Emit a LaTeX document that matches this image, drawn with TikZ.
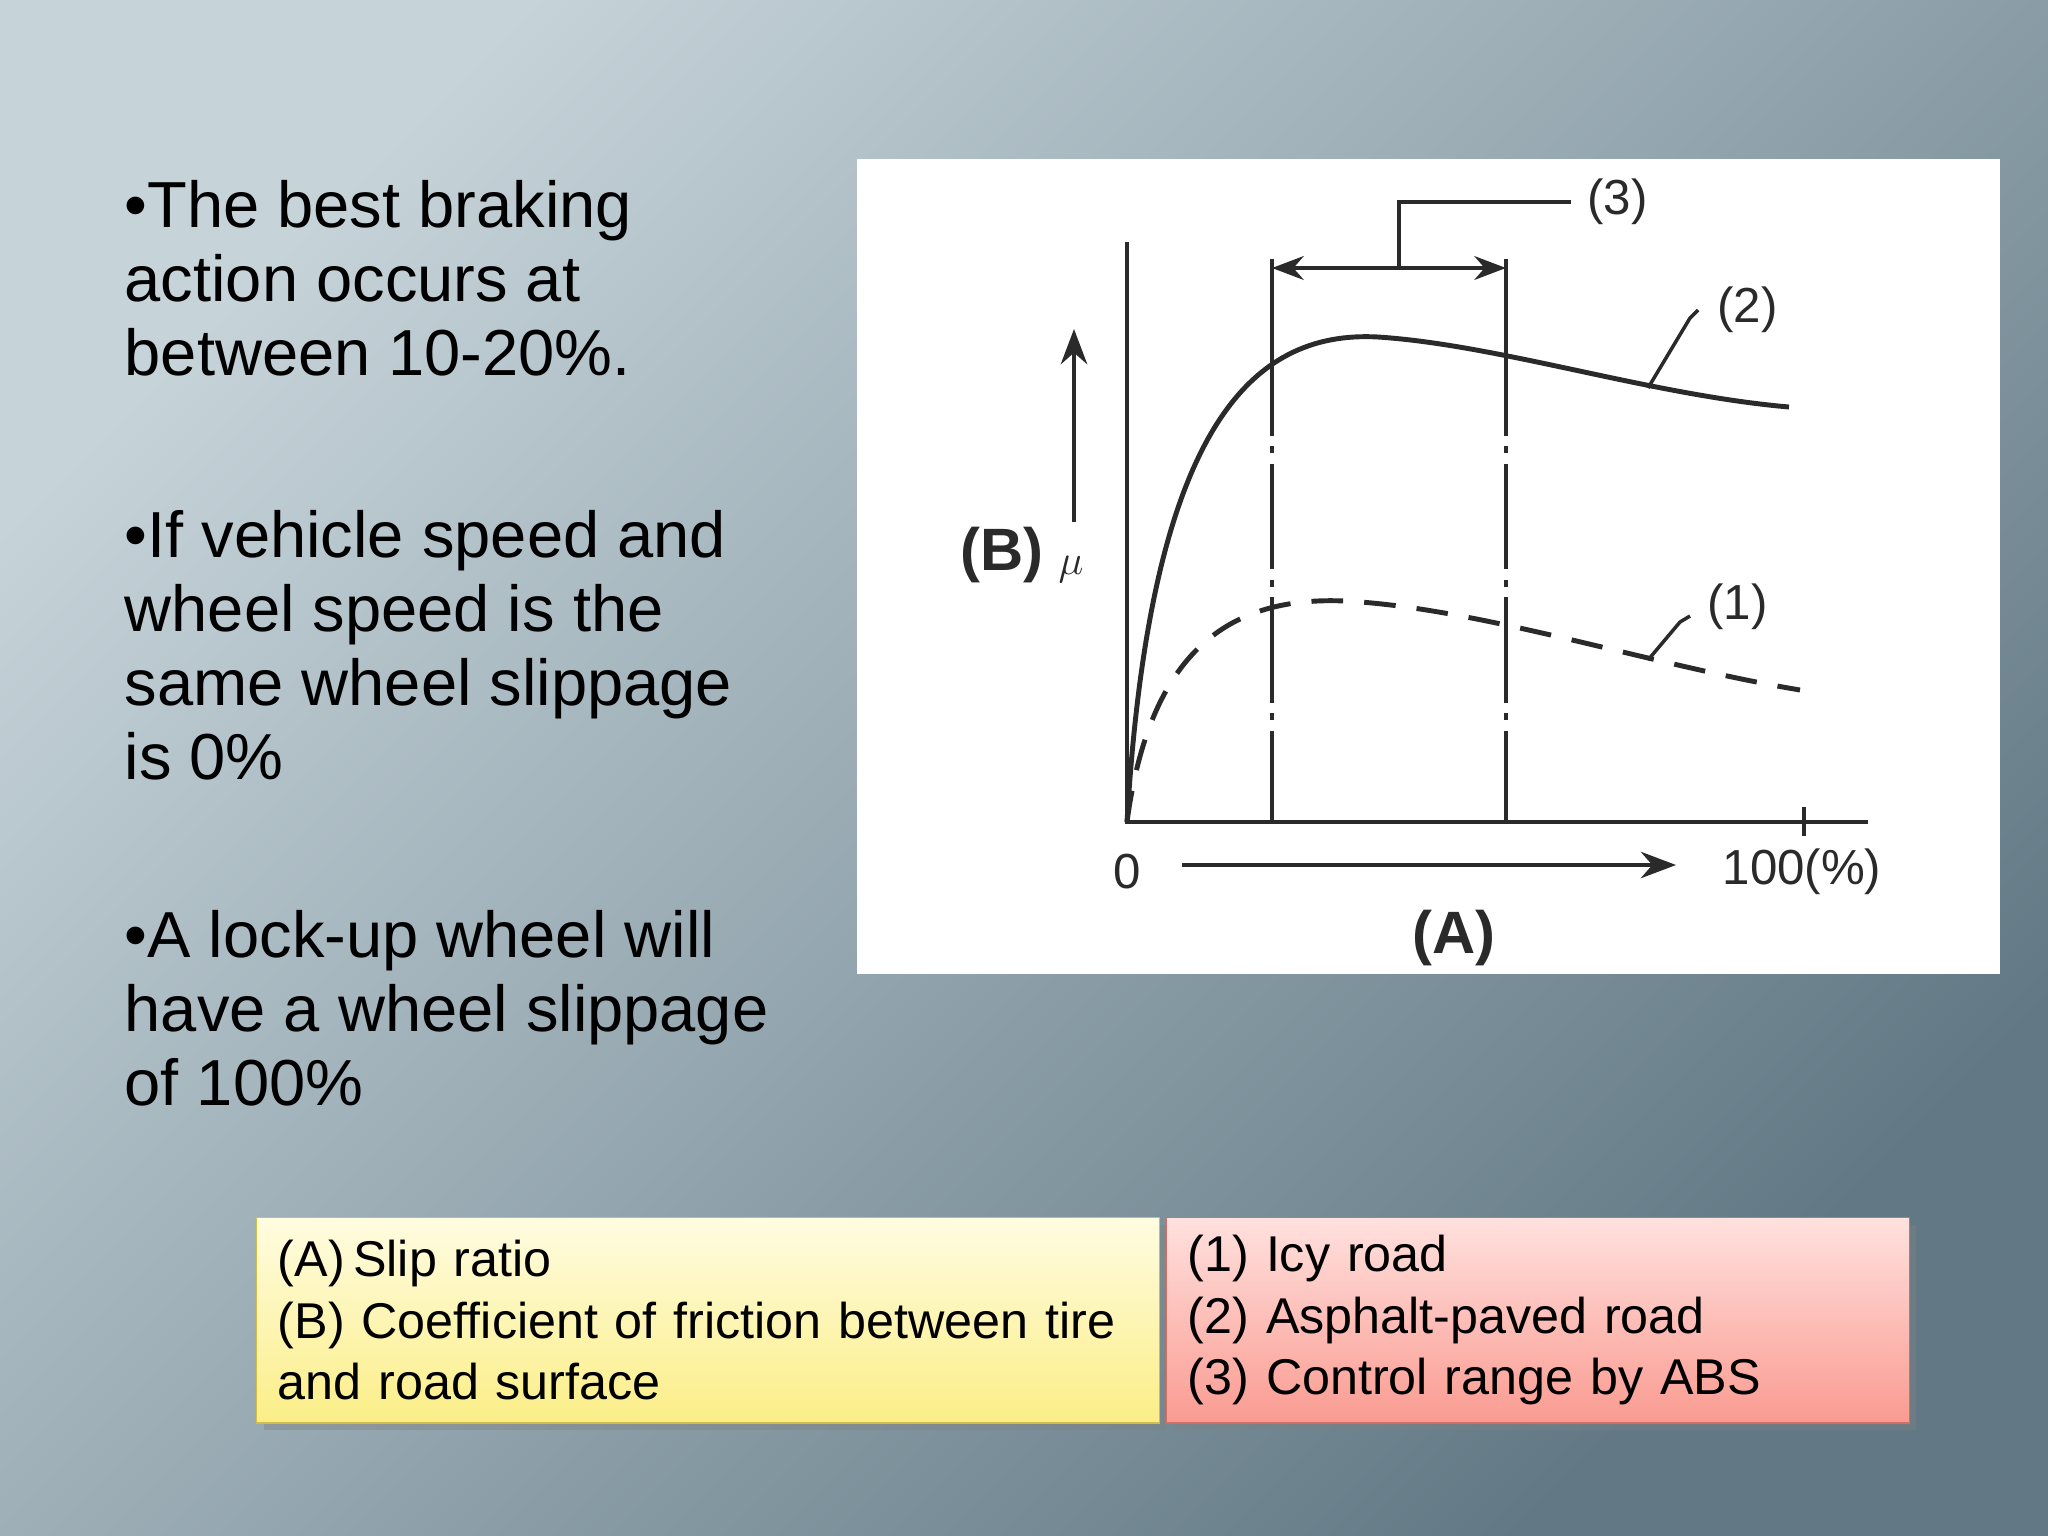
\documentclass[tikz,border=0pt]{standalone}
\usepackage{fontspec}
\setmainfont{Liberation Sans}
\usetikzlibrary{arrows.meta,shadows}
\definecolor{bgl}{HTML}{C6D3D9}
\definecolor{bgd}{HTML}{627985}
\definecolor{ink}{HTML}{2A2A2A}
\definecolor{ybd}{HTML}{D2BE46}
\definecolor{ytop}{HTML}{FFFCE1}
\definecolor{ybot}{HTML}{FBEE87}
\definecolor{rbd}{HTML}{D76E64}
\definecolor{rtop}{HTML}{FFE1DE}
\definecolor{rbot}{HTML}{FA9B91}
\tikzset{
  plotln/.style={ink, line width=1.4pt},
  lbl/.style={ink, font=\fontsize{14}{16}\selectfont},
  bul/.style={align=left, anchor=north west, font=\fontsize{18.5}{21}\selectfont, inner sep=0pt},
  legbox/.style={anchor=north west, align=left, inner xsep=6pt, inner ysep=5pt, font=\fontsize{14.3}{17.5}\selectfont, drop shadow={shadow xshift=2pt, shadow yshift=-2pt, opacity=0.4}}
}
\begin{document}
\begin{tikzpicture}[x=0.01cm,y=-0.01cm]
\useasboundingbox (0,0) rectangle (2048,1536);
\shade[shading=axis, top color=bgl, bottom color=bgd, shading angle=45] (0,0) rectangle (2048,1536);
% bullets
\node[bul] (t1) at (124,180) {•The best braking\\action occurs at\\between 10-20\%.};
\node[bul] (t2) at (124,510) {•If vehicle speed and\\wheel speed is the\\same wheel slippage\\is 0\%};
\node[bul] (t3) at (124,910) {•A lock-up wheel will\\have a wheel slippage\\of 100\%};
% plot panel
\fill[white] (857,159) rectangle (2000,974);
\coordinate (o) at (1127,822);
\draw[plotln] (1127,242) -- (o) -- (1868,822);
\draw[plotln] (1804,807) -- (1804,836);
\draw[ink, line width=1.2pt] (1272,259) -- (1272,330);
\draw[ink, line width=1.2pt, dash pattern=on 30pt off 3pt on 2pt off 3pt] (1272,330) -- (1272,740);
\draw[ink, line width=1.2pt] (1272,740) -- (1272,822);
\draw[ink, line width=1.2pt] (1506,259) -- (1506,330);
\draw[ink, line width=1.2pt, dash pattern=on 30pt off 3pt on 2pt off 3pt] (1506,330) -- (1506,740);
\draw[ink, line width=1.2pt] (1506,740) -- (1506,822);
\coordinate (ra) at (1272,268); \coordinate (rb) at (1506,268);
\draw[ink, line width=1.2pt, {Stealth[length=9pt]}-{Stealth[length=9pt]}] (ra) -- (rb);
\coordinate (s1) at (1399,268); \coordinate (s2) at (1399,202); \coordinate (s3) at (1571,202);
\draw[ink, line width=1.2pt] (s1) -- (s2) -- (s3);
\node[lbl, anchor=west] (l3) at (1575,202) {(3)};
% curve 2
\draw[plotln] (o) .. controls (1150,430) and (1250,330) .. (1378,337)
  .. controls (1500,345) and (1650,395) .. (1789,407);
\coordinate (a2) at (1648,388); \coordinate (b2) at (1698,310);
\draw[ink, line width=1pt] (a2) -- (1690,318) -- (b2);
\node[lbl, anchor=west] (l2) at (1705,310) {(2)};
% curve 1
\draw[plotln, dash pattern=on 9pt off 6pt] (o) .. controls (1150,650) and (1230,596) .. (1345,601)
  .. controls (1480,608) and (1650,665) .. (1800,690);
\coordinate (a1) at (1648,660); \coordinate (b1) at (1690,616);
\draw[ink, line width=1pt] (a1) -- (1680,622) -- (b1);
\node[lbl, anchor=west] (l1) at (1695,607) {(1)};
% axis annotations
\coordinate (u1) at (1074,522); \coordinate (u2) at (1074,329);
\draw[ink, line width=1.2pt, -{Stealth[length=10pt]}] (u1) -- (u2);
\node[lbl, font=\fontsize{17}{19}\selectfont\bfseries] (B) at (1002,555) {(B)};
\node[lbl, font=\fontsize{13}{15}\selectfont] (mu) at (1071,570) {$\mu$};
\node[lbl] (zero) at (1127,872) {0};
\coordinate (x1) at (1182,865); \coordinate (x2) at (1676,865);
\draw[ink, line width=1.2pt, -{Stealth[length=10pt]}] (x1) -- (x2);
\node[lbl] (hund) at (1802,872) {100(\%)};
\node[lbl, font=\fontsize{17}{19}\selectfont\bfseries] (A) at (1454,938) {(A)};
% legend boxes
\node[legbox, minimum width=8.96cm, minimum height=2.05cm, text width=8.6cm,
  draw=ybd, top color=ytop, bottom color=ybot]
  (ly) at (256,1217) {(A)\,Slip ratio\\(B) Coefficient of friction between tire\\and road surface};
\node[legbox, minimum width=7.37cm, minimum height=2.05cm, text width=7.0cm,
  draw=rbd, top color=rtop, bottom color=rbot]
  (lr) at (1166,1217) {(1) Icy road\\(2) Asphalt-paved road\\(3) Control range by ABS};
\end{tikzpicture}
\end{document}
